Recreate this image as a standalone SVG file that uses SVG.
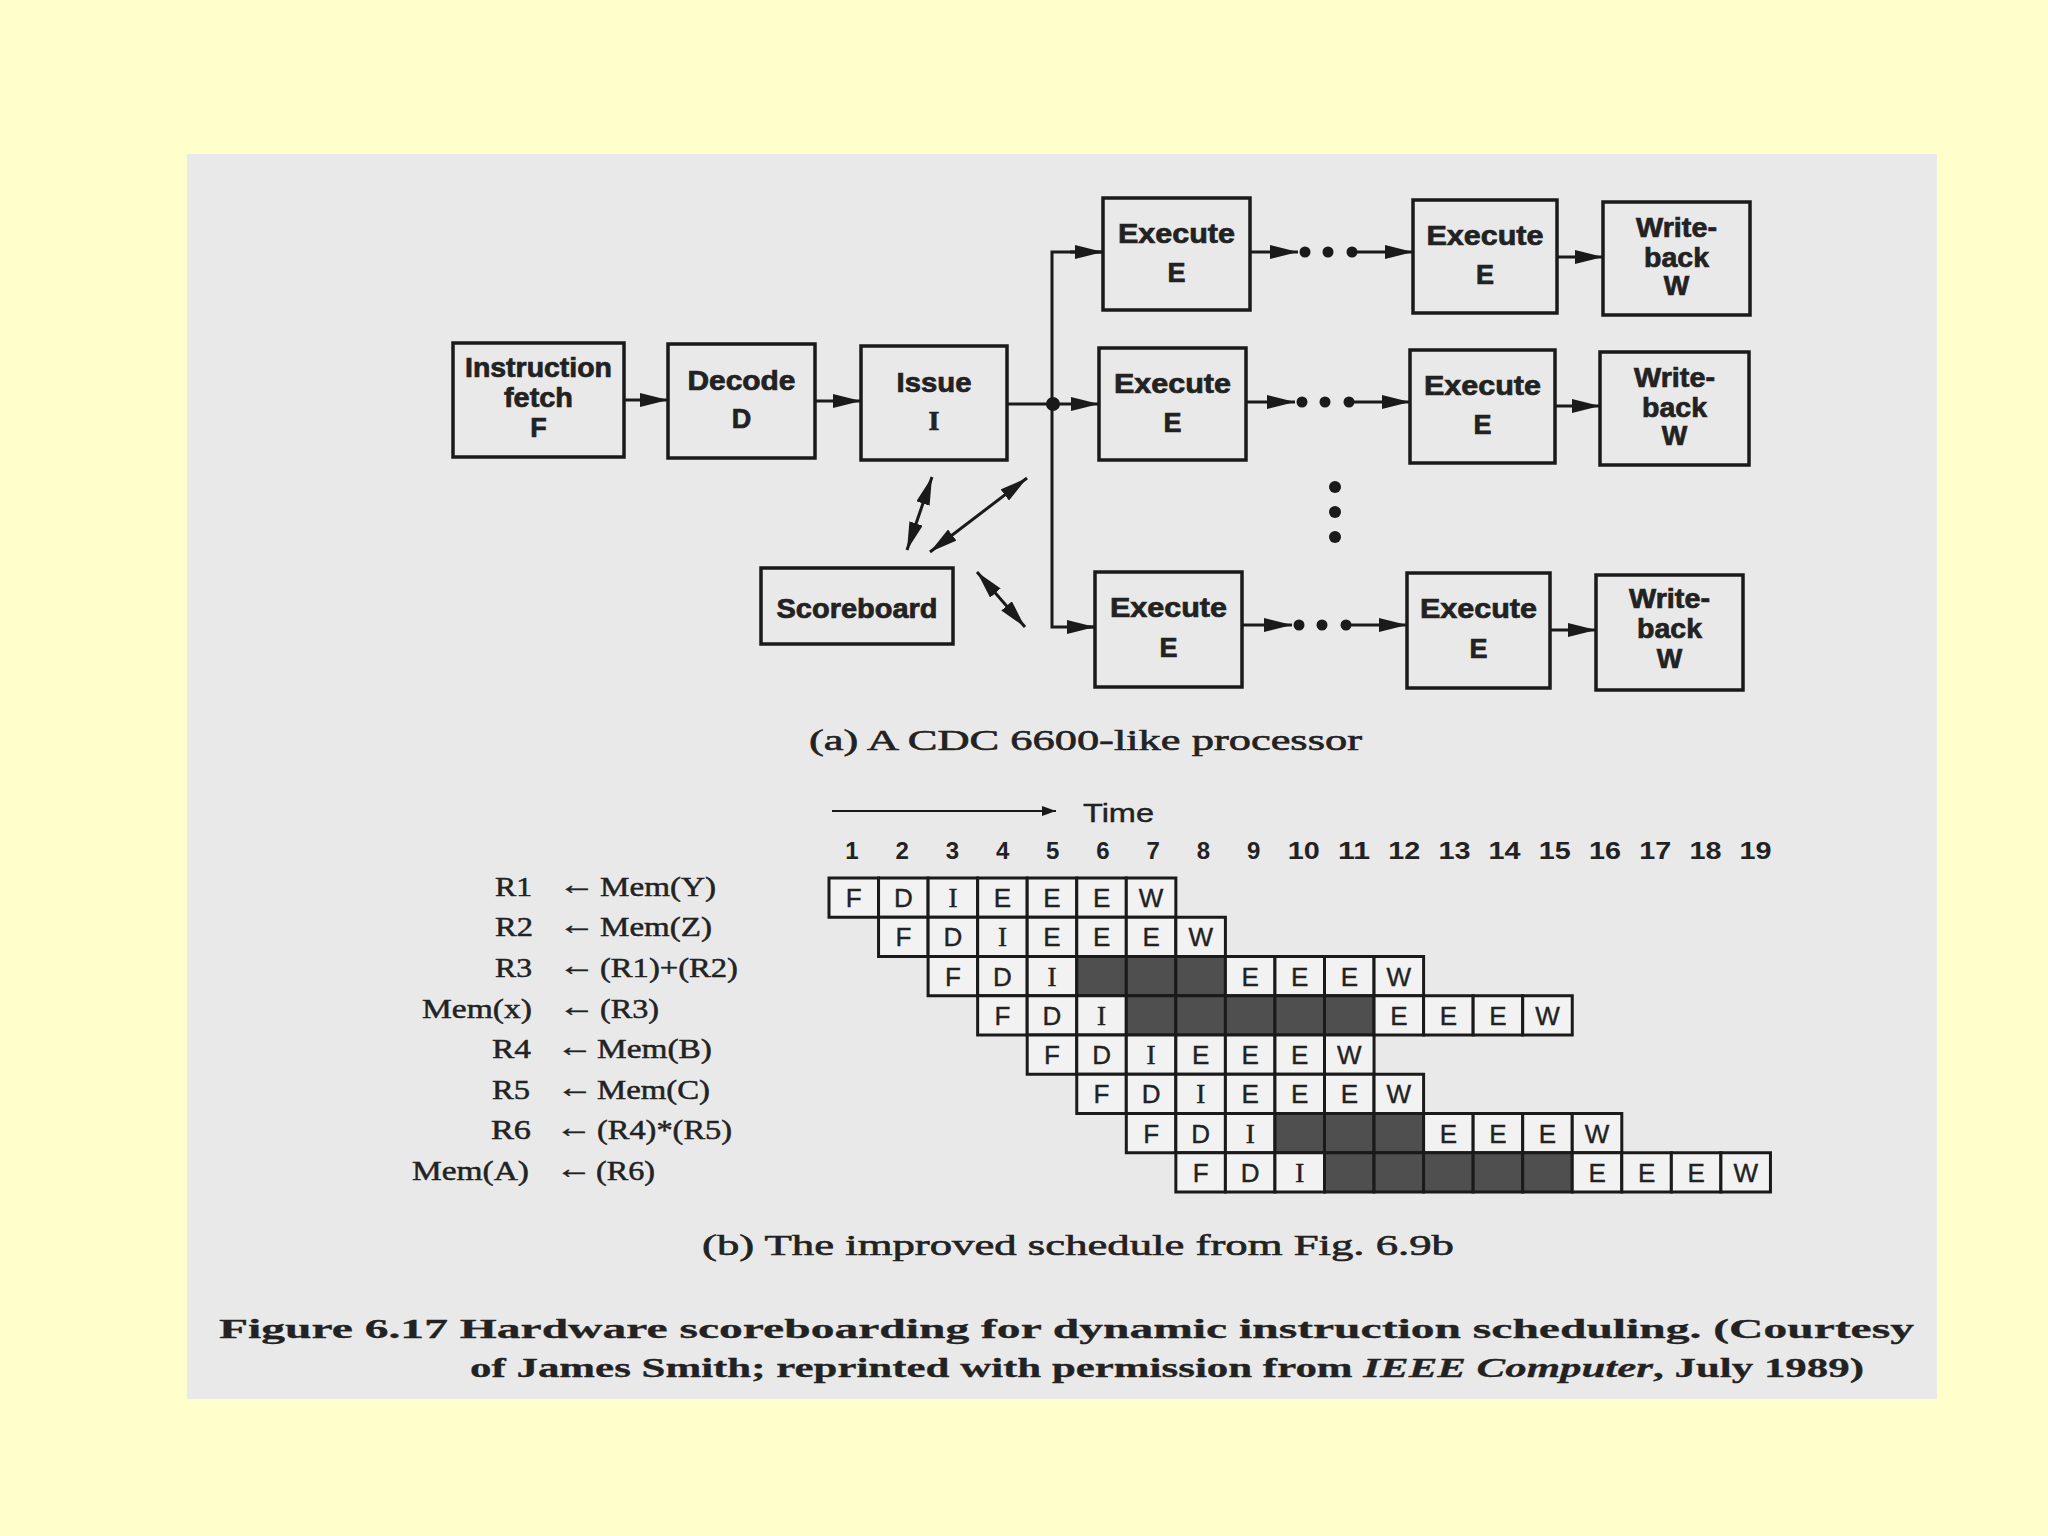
<svg xmlns="http://www.w3.org/2000/svg" width="2048" height="1536" viewBox="0 0 2048 1536">
<style>
.box{fill:none;stroke:#1a1a1a;stroke-width:3.5}
.bl{font-family:"Liberation Sans",Arial,sans-serif;font-weight:bold;font-size:27px;fill:#222;stroke:#222;stroke-width:0.7;text-anchor:middle}
.bs{font-family:"Liberation Serif","Times New Roman",serif;font-weight:bold;font-size:28px;fill:#222;stroke:#222;stroke-width:0.7;text-anchor:middle}
.ln{fill:none;stroke:#1a1a1a;stroke-width:3}
.dot{fill:#1a1a1a}
.cap{font-family:"Liberation Serif","Times New Roman",serif;font-size:29px;fill:#222;stroke:#222;stroke-width:0.6}
.capb{font-family:"Liberation Serif","Times New Roman",serif;font-size:28px;font-weight:bold;fill:#222;stroke:#222;stroke-width:0.3}
.ins{font-family:"Liberation Serif","Times New Roman",serif;font-size:28px;fill:#222;stroke:#222;stroke-width:0.5}
.num{font-family:"Liberation Sans",Arial,sans-serif;font-size:24px;font-weight:bold;fill:#222;text-anchor:middle}
.cell{fill:#f2f2f2;stroke:#1a1a1a;stroke-width:3}
.dark{fill:#4f4f4f;stroke:#1a1a1a;stroke-width:3}
.cl{font-family:"Liberation Sans",Arial,sans-serif;font-size:26px;fill:#222;stroke:#222;stroke-width:0.4;text-anchor:middle}
.cli{font-family:"Liberation Serif","Times New Roman",serif;font-size:27px;fill:#222;stroke:#222;stroke-width:0.5;text-anchor:middle}
</style>
<defs>
<marker id="ah" viewBox="0 0 28 14" refX="28" refY="7" markerWidth="28" markerHeight="14" markerUnits="userSpaceOnUse" orient="auto-start-reverse">
<path d="M0,0 L28,7 L0,14 Z" fill="#1a1a1a"/>
</marker>
<marker id="ahs" viewBox="0 0 14 10" refX="14" refY="5" markerWidth="14" markerHeight="10" markerUnits="userSpaceOnUse" orient="auto">
<path d="M0,0 L14,5 L0,10 Z" fill="#1a1a1a"/>
</marker>
</defs>
<rect x="0" y="0" width="2048" height="1536" fill="#FFFFCC"/>
<rect x="187" y="154" width="1750" height="1245" fill="#E9E9E9"/>

<g id="connectors">
<line class="ln" x1="624" y1="400" x2="668" y2="400" marker-end="url(#ah)"/>
<line class="ln" x1="815" y1="401" x2="861" y2="401" marker-end="url(#ah)"/>
<line class="ln" x1="1007" y1="404" x2="1053" y2="404"/>
<circle class="dot" cx="1053" cy="404" r="7"/>
<line class="ln" x1="1053" y1="404" x2="1099" y2="404" marker-end="url(#ah)"/>
<polyline class="ln" points="1103,252 1052,252 1052,627 1095,627"/>
<line class="ln" x1="1070" y1="252" x2="1103" y2="252" marker-end="url(#ah)"/>
<line class="ln" x1="1070" y1="627" x2="1095" y2="627" marker-end="url(#ah)"/>
<line class="ln" x1="1250" y1="252" x2="1298" y2="252" marker-end="url(#ah)"/>
<circle class="dot" cx="1305" cy="252" r="5.5"/><circle class="dot" cx="1328" cy="252" r="5.5"/><circle class="dot" cx="1352" cy="252" r="5.5"/>
<line class="ln" x1="1352" y1="252" x2="1413" y2="252" marker-end="url(#ah)"/>
<line class="ln" x1="1557" y1="257" x2="1603" y2="257" marker-end="url(#ah)"/>
<line class="ln" x1="1246" y1="402" x2="1295" y2="402" marker-end="url(#ah)"/>
<circle class="dot" cx="1302" cy="402" r="5.5"/><circle class="dot" cx="1325" cy="402" r="5.5"/><circle class="dot" cx="1349" cy="402" r="5.5"/>
<line class="ln" x1="1349" y1="402" x2="1410" y2="402" marker-end="url(#ah)"/>
<line class="ln" x1="1555" y1="406" x2="1600" y2="406" marker-end="url(#ah)"/>
<line class="ln" x1="1242" y1="625" x2="1292" y2="625" marker-end="url(#ah)"/>
<circle class="dot" cx="1299" cy="625" r="5.5"/><circle class="dot" cx="1322" cy="625" r="5.5"/><circle class="dot" cx="1346" cy="625" r="5.5"/>
<line class="ln" x1="1346" y1="625" x2="1407" y2="625" marker-end="url(#ah)"/>
<line class="ln" x1="1550" y1="630" x2="1596" y2="630" marker-end="url(#ah)"/>
<circle class="dot" cx="1335" cy="487" r="6"/><circle class="dot" cx="1335" cy="512" r="6"/><circle class="dot" cx="1335" cy="537" r="6"/>
<line class="ln" x1="907" y1="550" x2="932" y2="477" marker-start="url(#ah)" marker-end="url(#ah)"/>
<line class="ln" x1="930" y1="552" x2="1027" y2="478" marker-start="url(#ah)" marker-end="url(#ah)"/>
<line class="ln" x1="977" y1="572" x2="1025" y2="627" marker-start="url(#ah)" marker-end="url(#ah)"/>
<line x1="832" y1="811" x2="1056" y2="811" stroke="#1a1a1a" stroke-width="2.2" marker-end="url(#ahs)"/>
</g>

<g id="node-fetch">
<rect class="box" x="453" y="343" width="171" height="114"/>
<text class="bl" x="538.5" y="377" textLength="147" lengthAdjust="spacingAndGlyphs">Instruction</text>
<text class="bl" x="538.5" y="407" textLength="69" lengthAdjust="spacingAndGlyphs">fetch</text>
<text class="bl" x="538.5" y="437">F</text>
</g>
<g id="node-decode">
<rect class="box" x="668" y="344" width="147" height="114"/>
<text class="bl" x="741.5" y="390" textLength="108" lengthAdjust="spacingAndGlyphs">Decode</text>
<text class="bl" x="741.5" y="428">D</text>
</g>
<g id="node-issue">
<rect class="box" x="861" y="346" width="146" height="114"/>
<text class="bl" x="934" y="392" textLength="75" lengthAdjust="spacingAndGlyphs">Issue</text>
<text class="bs" x="934" y="430">I</text>
</g>
<g id="node-scoreboard">
<rect class="box" x="761" y="568" width="192" height="76"/>
<text class="bl" x="857" y="618" textLength="161" lengthAdjust="spacingAndGlyphs">Scoreboard</text>
</g>

<g id="node-exec-1a">
<rect class="box" x="1103" y="198" width="147" height="112"/>
<text class="bl" x="1176.5" y="243" textLength="117" lengthAdjust="spacingAndGlyphs">Execute</text>
<text class="bl" x="1176.5" y="282">E</text>
</g>
<g id="node-exec-1b">
<rect class="box" x="1413" y="200" width="144" height="113"/>
<text class="bl" x="1485" y="245" textLength="117" lengthAdjust="spacingAndGlyphs">Execute</text>
<text class="bl" x="1485" y="284">E</text>
</g>
<g id="node-wb-1">
<rect class="box" x="1603" y="202" width="147" height="113"/>
<text class="bl" x="1676.5" y="237" textLength="81" lengthAdjust="spacingAndGlyphs">Write-</text>
<text class="bl" x="1676.5" y="267" textLength="65" lengthAdjust="spacingAndGlyphs">back</text>
<text class="bl" x="1676.5" y="295">W</text>
</g>

<g id="node-exec-2a">
<rect class="box" x="1099" y="348" width="147" height="112"/>
<text class="bl" x="1172.5" y="393" textLength="117" lengthAdjust="spacingAndGlyphs">Execute</text>
<text class="bl" x="1172.5" y="432">E</text>
</g>
<g id="node-exec-2b">
<rect class="box" x="1410" y="350" width="145" height="113"/>
<text class="bl" x="1482.5" y="395" textLength="117" lengthAdjust="spacingAndGlyphs">Execute</text>
<text class="bl" x="1482.5" y="434">E</text>
</g>
<g id="node-wb-2">
<rect class="box" x="1600" y="352" width="149" height="113"/>
<text class="bl" x="1674.5" y="387" textLength="81" lengthAdjust="spacingAndGlyphs">Write-</text>
<text class="bl" x="1674.5" y="417" textLength="65" lengthAdjust="spacingAndGlyphs">back</text>
<text class="bl" x="1674.5" y="445">W</text>
</g>

<g id="node-exec-3a">
<rect class="box" x="1095" y="572" width="147" height="115"/>
<text class="bl" x="1168.5" y="617" textLength="117" lengthAdjust="spacingAndGlyphs">Execute</text>
<text class="bl" x="1168.5" y="657">E</text>
</g>
<g id="node-exec-3b">
<rect class="box" x="1407" y="573" width="143" height="115"/>
<text class="bl" x="1478.5" y="618" textLength="117" lengthAdjust="spacingAndGlyphs">Execute</text>
<text class="bl" x="1478.5" y="658">E</text>
</g>
<g id="node-wb-3">
<rect class="box" x="1596" y="575" width="147" height="115"/>
<text class="bl" x="1669.5" y="608" textLength="81" lengthAdjust="spacingAndGlyphs">Write-</text>
<text class="bl" x="1669.5" y="638" textLength="65" lengthAdjust="spacingAndGlyphs">back</text>
<text class="bl" x="1669.5" y="668">W</text>
</g>

<text class="cap" x="809" y="750" textLength="553" lengthAdjust="spacingAndGlyphs">(a) A CDC 6600-like processor</text>

<g id="time-axis">
<text x="1083" y="822" font-family="Liberation Sans, Arial, sans-serif" font-size="25" fill="#222" stroke="#222" stroke-width="0.4" textLength="71" lengthAdjust="spacingAndGlyphs">Time</text>
<text class="num" x="852" y="859">1</text>
<text class="num" x="902.2" y="859">2</text>
<text class="num" x="952.4" y="859">3</text>
<text class="num" x="1002.6" y="859">4</text>
<text class="num" x="1052.8" y="859">5</text>
<text class="num" x="1103" y="859">6</text>
<text class="num" x="1153.2" y="859">7</text>
<text class="num" x="1203.4" y="859">8</text>
<text class="num" x="1253.6" y="859">9</text>
<text class="num" x="1303.8" y="859" textLength="32" lengthAdjust="spacingAndGlyphs">10</text>
<text class="num" x="1354" y="859" textLength="32" lengthAdjust="spacingAndGlyphs">11</text>
<text class="num" x="1404.2" y="859" textLength="32" lengthAdjust="spacingAndGlyphs">12</text>
<text class="num" x="1454.4" y="859" textLength="32" lengthAdjust="spacingAndGlyphs">13</text>
<text class="num" x="1504.6" y="859" textLength="32" lengthAdjust="spacingAndGlyphs">14</text>
<text class="num" x="1554.8" y="859" textLength="32" lengthAdjust="spacingAndGlyphs">15</text>
<text class="num" x="1605" y="859" textLength="32" lengthAdjust="spacingAndGlyphs">16</text>
<text class="num" x="1655.2" y="859" textLength="32" lengthAdjust="spacingAndGlyphs">17</text>
<text class="num" x="1705.4" y="859" textLength="32" lengthAdjust="spacingAndGlyphs">18</text>
<text class="num" x="1755.6" y="859" textLength="32" lengthAdjust="spacingAndGlyphs">19</text>
</g>

<g id="instructions">
<text class="ins" x="532" y="896" text-anchor="end" textLength="37" lengthAdjust="spacingAndGlyphs">R1</text>
<text class="ins" x="533" y="936" text-anchor="end" textLength="38" lengthAdjust="spacingAndGlyphs">R2</text>
<text class="ins" x="532" y="977" text-anchor="end" textLength="37" lengthAdjust="spacingAndGlyphs">R3</text>
<text class="ins" x="532" y="1018" text-anchor="end" textLength="110" lengthAdjust="spacingAndGlyphs">Mem(x)</text>
<text class="ins" x="531" y="1058" text-anchor="end" textLength="39" lengthAdjust="spacingAndGlyphs">R4</text>
<text class="ins" x="530" y="1099" text-anchor="end" textLength="38" lengthAdjust="spacingAndGlyphs">R5</text>
<text class="ins" x="531" y="1139" text-anchor="end" textLength="40" lengthAdjust="spacingAndGlyphs">R6</text>
<text class="ins" x="529" y="1180" text-anchor="end" textLength="117" lengthAdjust="spacingAndGlyphs">Mem(A)</text>
<text class="ins" x="558" y="894" textLength="37" lengthAdjust="spacingAndGlyphs">←</text>
<text class="ins" x="558" y="934" textLength="37" lengthAdjust="spacingAndGlyphs">←</text>
<text class="ins" x="558" y="975" textLength="37" lengthAdjust="spacingAndGlyphs">←</text>
<text class="ins" x="558" y="1016" textLength="37" lengthAdjust="spacingAndGlyphs">←</text>
<text class="ins" x="556" y="1056" textLength="37" lengthAdjust="spacingAndGlyphs">←</text>
<text class="ins" x="556" y="1097" textLength="37" lengthAdjust="spacingAndGlyphs">←</text>
<text class="ins" x="555" y="1137" textLength="37" lengthAdjust="spacingAndGlyphs">←</text>
<text class="ins" x="555" y="1178" textLength="37" lengthAdjust="spacingAndGlyphs">←</text>
<text class="ins" x="600" y="896" textLength="116" lengthAdjust="spacingAndGlyphs">Mem(Y)</text>
<text class="ins" x="600" y="936" textLength="112" lengthAdjust="spacingAndGlyphs">Mem(Z)</text>
<text class="ins" x="600" y="977" textLength="138" lengthAdjust="spacingAndGlyphs">(R1)+(R2)</text>
<text class="ins" x="600" y="1018" textLength="59" lengthAdjust="spacingAndGlyphs">(R3)</text>
<text class="ins" x="597" y="1058" textLength="115" lengthAdjust="spacingAndGlyphs">Mem(B)</text>
<text class="ins" x="597" y="1099" textLength="113" lengthAdjust="spacingAndGlyphs">Mem(C)</text>
<text class="ins" x="597" y="1139" textLength="135" lengthAdjust="spacingAndGlyphs">(R4)*(R5)</text>
<text class="ins" x="596" y="1180" textLength="59" lengthAdjust="spacingAndGlyphs">(R6)</text>
</g>

<g id="schedule">
<g id="row-1">
<rect class="cell" x="829" y="878" width="49.55" height="39.25"/>
<rect class="cell" x="878.55" y="878" width="49.55" height="39.25"/>
<rect class="cell" x="928.1" y="878" width="49.55" height="39.25"/>
<rect class="cell" x="977.65" y="878" width="49.55" height="39.25"/>
<rect class="cell" x="1027.2" y="878" width="49.55" height="39.25"/>
<rect class="cell" x="1076.75" y="878" width="49.55" height="39.25"/>
<rect class="cell" x="1126.3" y="878" width="49.55" height="39.25"/>
<text class="cl" x="853.8" y="907">F</text>
<text class="cl" x="903.35" y="907">D</text>
<text class="cli" x="952.9" y="907">I</text>
<text class="cl" x="1002.45" y="907">E</text>
<text class="cl" x="1052" y="907">E</text>
<text class="cl" x="1101.55" y="907">E</text>
<text class="cl" x="1151.1" y="907">W</text>
</g>
<g id="row-2">
<rect class="cell" x="878.55" y="917.25" width="49.55" height="39.25"/>
<rect class="cell" x="928.1" y="917.25" width="49.55" height="39.25"/>
<rect class="cell" x="977.65" y="917.25" width="49.55" height="39.25"/>
<rect class="cell" x="1027.2" y="917.25" width="49.55" height="39.25"/>
<rect class="cell" x="1076.75" y="917.25" width="49.55" height="39.25"/>
<rect class="cell" x="1126.3" y="917.25" width="49.55" height="39.25"/>
<rect class="cell" x="1175.85" y="917.25" width="49.55" height="39.25"/>
<text class="cl" x="903.35" y="946.25">F</text>
<text class="cl" x="952.9" y="946.25">D</text>
<text class="cli" x="1002.45" y="946.25">I</text>
<text class="cl" x="1052" y="946.25">E</text>
<text class="cl" x="1101.55" y="946.25">E</text>
<text class="cl" x="1151.1" y="946.25">E</text>
<text class="cl" x="1200.65" y="946.25">W</text>
</g>
<g id="row-3">
<rect class="cell" x="928.1" y="956.5" width="49.55" height="39.25"/>
<rect class="cell" x="977.65" y="956.5" width="49.55" height="39.25"/>
<rect class="cell" x="1027.2" y="956.5" width="49.55" height="39.25"/>
<rect class="dark" x="1076.75" y="956.5" width="49.55" height="39.25"/>
<rect class="dark" x="1126.3" y="956.5" width="49.55" height="39.25"/>
<rect class="dark" x="1175.85" y="956.5" width="49.55" height="39.25"/>
<rect class="cell" x="1225.4" y="956.5" width="49.55" height="39.25"/>
<rect class="cell" x="1274.95" y="956.5" width="49.55" height="39.25"/>
<rect class="cell" x="1324.5" y="956.5" width="49.55" height="39.25"/>
<rect class="cell" x="1374.05" y="956.5" width="49.55" height="39.25"/>
<text class="cl" x="952.9" y="985.5">F</text>
<text class="cl" x="1002.45" y="985.5">D</text>
<text class="cli" x="1052" y="985.5">I</text>
<text class="cl" x="1250.2" y="985.5">E</text>
<text class="cl" x="1299.75" y="985.5">E</text>
<text class="cl" x="1349.3" y="985.5">E</text>
<text class="cl" x="1398.85" y="985.5">W</text>
</g>
<g id="row-4">
<rect class="cell" x="977.65" y="995.75" width="49.55" height="39.25"/>
<rect class="cell" x="1027.2" y="995.75" width="49.55" height="39.25"/>
<rect class="cell" x="1076.75" y="995.75" width="49.55" height="39.25"/>
<rect class="dark" x="1126.3" y="995.75" width="49.55" height="39.25"/>
<rect class="dark" x="1175.85" y="995.75" width="49.55" height="39.25"/>
<rect class="dark" x="1225.4" y="995.75" width="49.55" height="39.25"/>
<rect class="dark" x="1274.95" y="995.75" width="49.55" height="39.25"/>
<rect class="dark" x="1324.5" y="995.75" width="49.55" height="39.25"/>
<rect class="cell" x="1374.05" y="995.75" width="49.55" height="39.25"/>
<rect class="cell" x="1423.6" y="995.75" width="49.55" height="39.25"/>
<rect class="cell" x="1473.15" y="995.75" width="49.55" height="39.25"/>
<rect class="cell" x="1522.7" y="995.75" width="49.55" height="39.25"/>
<text class="cl" x="1002.45" y="1024.75">F</text>
<text class="cl" x="1052" y="1024.75">D</text>
<text class="cli" x="1101.55" y="1024.75">I</text>
<text class="cl" x="1398.85" y="1024.75">E</text>
<text class="cl" x="1448.4" y="1024.75">E</text>
<text class="cl" x="1497.95" y="1024.75">E</text>
<text class="cl" x="1547.5" y="1024.75">W</text>
</g>
<g id="row-5">
<rect class="cell" x="1027.2" y="1035" width="49.55" height="39.25"/>
<rect class="cell" x="1076.75" y="1035" width="49.55" height="39.25"/>
<rect class="cell" x="1126.3" y="1035" width="49.55" height="39.25"/>
<rect class="cell" x="1175.85" y="1035" width="49.55" height="39.25"/>
<rect class="cell" x="1225.4" y="1035" width="49.55" height="39.25"/>
<rect class="cell" x="1274.95" y="1035" width="49.55" height="39.25"/>
<rect class="cell" x="1324.5" y="1035" width="49.55" height="39.25"/>
<text class="cl" x="1052" y="1064">F</text>
<text class="cl" x="1101.55" y="1064">D</text>
<text class="cli" x="1151.1" y="1064">I</text>
<text class="cl" x="1200.65" y="1064">E</text>
<text class="cl" x="1250.2" y="1064">E</text>
<text class="cl" x="1299.75" y="1064">E</text>
<text class="cl" x="1349.3" y="1064">W</text>
</g>
<g id="row-6">
<rect class="cell" x="1076.75" y="1074.25" width="49.55" height="39.25"/>
<rect class="cell" x="1126.3" y="1074.25" width="49.55" height="39.25"/>
<rect class="cell" x="1175.85" y="1074.25" width="49.55" height="39.25"/>
<rect class="cell" x="1225.4" y="1074.25" width="49.55" height="39.25"/>
<rect class="cell" x="1274.95" y="1074.25" width="49.55" height="39.25"/>
<rect class="cell" x="1324.5" y="1074.25" width="49.55" height="39.25"/>
<rect class="cell" x="1374.05" y="1074.25" width="49.55" height="39.25"/>
<text class="cl" x="1101.55" y="1103.25">F</text>
<text class="cl" x="1151.1" y="1103.25">D</text>
<text class="cli" x="1200.65" y="1103.25">I</text>
<text class="cl" x="1250.2" y="1103.25">E</text>
<text class="cl" x="1299.75" y="1103.25">E</text>
<text class="cl" x="1349.3" y="1103.25">E</text>
<text class="cl" x="1398.85" y="1103.25">W</text>
</g>
<g id="row-7">
<rect class="cell" x="1126.3" y="1113.5" width="49.55" height="39.25"/>
<rect class="cell" x="1175.85" y="1113.5" width="49.55" height="39.25"/>
<rect class="cell" x="1225.4" y="1113.5" width="49.55" height="39.25"/>
<rect class="dark" x="1274.95" y="1113.5" width="49.55" height="39.25"/>
<rect class="dark" x="1324.5" y="1113.5" width="49.55" height="39.25"/>
<rect class="dark" x="1374.05" y="1113.5" width="49.55" height="39.25"/>
<rect class="cell" x="1423.6" y="1113.5" width="49.55" height="39.25"/>
<rect class="cell" x="1473.15" y="1113.5" width="49.55" height="39.25"/>
<rect class="cell" x="1522.7" y="1113.5" width="49.55" height="39.25"/>
<rect class="cell" x="1572.25" y="1113.5" width="49.55" height="39.25"/>
<text class="cl" x="1151.1" y="1142.5">F</text>
<text class="cl" x="1200.65" y="1142.5">D</text>
<text class="cli" x="1250.2" y="1142.5">I</text>
<text class="cl" x="1448.4" y="1142.5">E</text>
<text class="cl" x="1497.95" y="1142.5">E</text>
<text class="cl" x="1547.5" y="1142.5">E</text>
<text class="cl" x="1597.05" y="1142.5">W</text>
</g>
<g id="row-8">
<rect class="cell" x="1175.85" y="1152.75" width="49.55" height="39.25"/>
<rect class="cell" x="1225.4" y="1152.75" width="49.55" height="39.25"/>
<rect class="cell" x="1274.95" y="1152.75" width="49.55" height="39.25"/>
<rect class="dark" x="1324.5" y="1152.75" width="49.55" height="39.25"/>
<rect class="dark" x="1374.05" y="1152.75" width="49.55" height="39.25"/>
<rect class="dark" x="1423.6" y="1152.75" width="49.55" height="39.25"/>
<rect class="dark" x="1473.15" y="1152.75" width="49.55" height="39.25"/>
<rect class="dark" x="1522.7" y="1152.75" width="49.55" height="39.25"/>
<rect class="cell" x="1572.25" y="1152.75" width="49.55" height="39.25"/>
<rect class="cell" x="1621.8" y="1152.75" width="49.55" height="39.25"/>
<rect class="cell" x="1671.35" y="1152.75" width="49.55" height="39.25"/>
<rect class="cell" x="1720.9" y="1152.75" width="49.55" height="39.25"/>
<text class="cl" x="1200.65" y="1181.75">F</text>
<text class="cl" x="1250.2" y="1181.75">D</text>
<text class="cli" x="1299.75" y="1181.75">I</text>
<text class="cl" x="1597.05" y="1181.75">E</text>
<text class="cl" x="1646.6" y="1181.75">E</text>
<text class="cl" x="1696.15" y="1181.75">E</text>
<text class="cl" x="1745.7" y="1181.75">W</text>
</g>
</g>

<text class="cap" x="702" y="1255" textLength="752" lengthAdjust="spacingAndGlyphs">(b) The improved schedule from Fig. 6.9b</text>
<text class="capb" x="219" y="1338" textLength="1695" lengthAdjust="spacingAndGlyphs">Figure 6.17 Hardware scoreboarding for dynamic instruction scheduling. (Courtesy</text>
<text class="capb" x="470" y="1377" textLength="1394" lengthAdjust="spacingAndGlyphs">of James Smith; reprinted with permission from <tspan font-style="italic">IEEE Computer</tspan>, July 1989)</text>
</svg>
